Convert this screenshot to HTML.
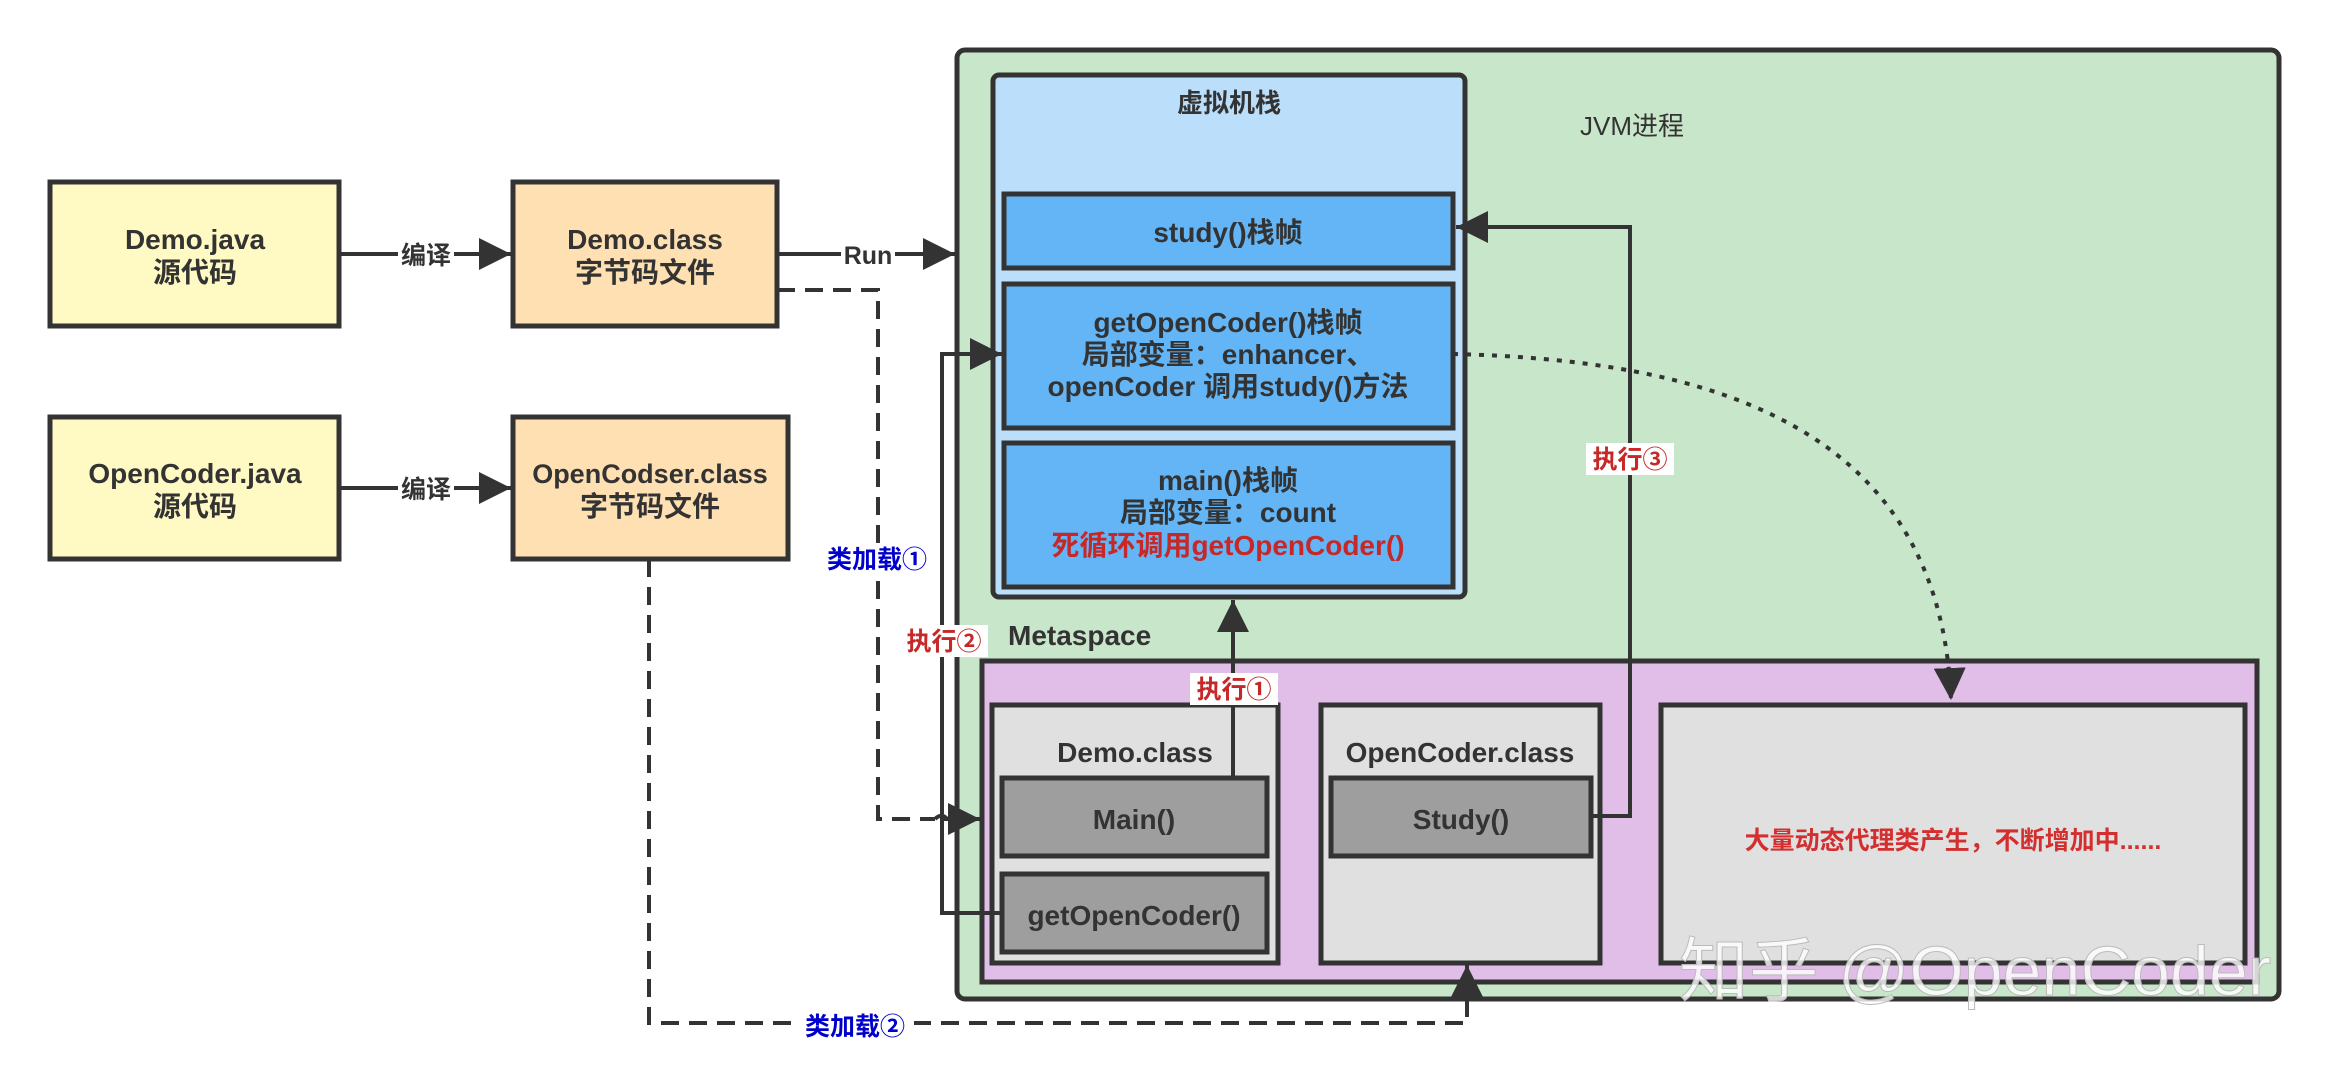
<!DOCTYPE html>
<html><head><meta charset="utf-8"><style>
html,body{margin:0;padding:0;background:#fff;}
svg text{font-family:"Liberation Sans","Noto Sans CJK SC",sans-serif;font-weight:bold;}
</style></head><body>
<svg width="2330" height="1074" viewBox="0 0 2330 1074" xmlns="http://www.w3.org/2000/svg">
<defs>
<marker id="ar" viewBox="0 0 10 10" refX="10" refY="5" markerWidth="32" markerHeight="32" markerUnits="userSpaceOnUse" orient="auto"><path d="M0,0 L10,5 L0,10 Z" fill="#333"/></marker>
</defs>
<g stroke="#333" stroke-width="5">
<rect x="50" y="182" width="289" height="144" fill="#fff9c4"/>
<rect x="513" y="182" width="264" height="144" fill="#ffe0b2"/>
<rect x="50" y="417" width="289" height="142" fill="#fff9c4"/>
<rect x="513" y="417" width="275" height="142" fill="#ffe0b2"/>
<rect x="957" y="50" width="1322" height="949" rx="8" fill="#c8e6c9"/>
<rect x="993" y="75" width="472" height="522" rx="6" fill="#bbdefb"/>
<rect x="1004" y="194" width="449" height="74" fill="#64b5f6"/>
<rect x="1004" y="284" width="449" height="144" fill="#64b5f6"/>
<rect x="1004" y="443" width="449" height="144" fill="#64b5f6"/>
<rect x="982" y="661" width="1275" height="321" fill="#e1bee7"/>
<rect x="992" y="705" width="286" height="258" fill="#e0e0e0"/>
<rect x="1002" y="778" width="265" height="78" fill="#9e9e9e"/>
<rect x="1002" y="874" width="265" height="78" fill="#9e9e9e"/>
<rect x="1321" y="705" width="279" height="258" fill="#e0e0e0"/>
<rect x="1331" y="778" width="260" height="78" fill="#9e9e9e"/>
<rect x="1661" y="705" width="584" height="258" fill="#e0e0e0"/>
</g>
<g stroke="#333" stroke-width="4" fill="none">
<line x1="339" y1="254" x2="511" y2="254" marker-end="url(#ar)"/>
<line x1="339" y1="488" x2="511" y2="488" marker-end="url(#ar)"/>
<line x1="777" y1="254" x2="955" y2="254" marker-end="url(#ar)"/>
<polyline points="777,290 878,290 878,819 935,819" stroke-dasharray="18,10"/>
<path d="M935,819 Q942,812 948,820" />
<line x1="942" y1="819" x2="980" y2="819" marker-end="url(#ar)"/>
<polyline points="1002,913 942,913 942,354 1002,354" marker-end="url(#ar)"/>
<line x1="1233" y1="778" x2="1233" y2="600" marker-end="url(#ar)"/>
<polyline points="1591,816 1630,816 1630,227 1456,227" marker-end="url(#ar)"/>
<polyline points="649,559 649,1023 1467,1023 1467,968" stroke-dasharray="18,10"/>
<line x1="1467" y1="990" x2="1467" y2="965" marker-end="url(#ar)"/>
<path d="M1453,354 C1700,360 1940,420 1951,700" stroke-dasharray="5,8" marker-end="url(#ar)"/>
</g>
<g font-size="28" fill="#333" text-anchor="middle">
<text x="195" y="249">Demo.java</text><text x="195" y="282">源代码</text>
<text x="645" y="249">Demo.class</text><text x="645" y="282">字节码文件</text>
<text x="195" y="483">OpenCoder.java</text><text x="195" y="516">源代码</text>
<text x="650" y="483" font-size="27">OpenCodser.class</text><text x="650" y="516">字节码文件</text>
<rect x="398" y="238" width="56" height="30" fill="#fff"/>
<text x="426" y="264" font-size="25">编译</text>
<rect x="398" y="472" width="56" height="30" fill="#fff"/>
<text x="426" y="498" font-size="25">编译</text>
<rect x="841" y="238" width="54" height="30" fill="#fff"/>
<text x="868" y="264" font-size="25">Run</text>
<text x="1177" y="112" font-size="26" text-anchor="start">虚拟机栈</text>
<text x="1228" y="242">study()栈帧</text>
<text x="1228" y="332">getOpenCoder()栈帧</text>
<text x="1228" y="364">局部变量：enhancer、</text>
<text x="1228" y="396">openCoder 调用study()方法</text>
<text x="1228" y="490">main()栈帧</text>
<text x="1228" y="522">局部变量：count</text>
<text x="1228" y="555" fill="#c62828">死循环调用getOpenCoder()</text>
<text x="1632" y="135" font-size="26" style="font-weight:normal">JVM进程</text>
<text x="1008" y="645" text-anchor="start">Metaspace</text>
<text x="1135" y="762">Demo.class</text>
<text x="1134" y="829">Main()</text>
<text x="1134" y="925">getOpenCoder()</text>
<text x="1460" y="762">OpenCoder.class</text>
<text x="1461" y="829">Study()</text>
<text x="1953" y="849" fill="#d32f2f" font-size="25">大量动态代理类产生，不断增加中......</text>
<rect x="822" y="543" width="110" height="32" fill="#fff"/>
<text x="877" y="568" fill="#0000cc" font-size="25">类加载①</text>
<rect x="900" y="625" width="88" height="32" fill="#fff"/>
<text x="944" y="650" fill="#c62828" font-size="25">执行②</text>
<rect x="1190" y="673" width="88" height="32" fill="#fff"/>
<text x="1234" y="698" fill="#c62828" font-size="25">执行①</text>
<rect x="1586" y="443" width="88" height="32" fill="#fff"/>
<text x="1630" y="468" fill="#c62828" font-size="25">执行③</text>
<rect x="796" y="1010" width="118" height="32" fill="#fff"/>
<text x="855" y="1035" fill="#0000cc" font-size="25">类加载②</text>
<text x="1975" y="995" font-size="70" fill="#ffffff" fill-opacity="0.8" stroke="#bbb" stroke-width="1" style="font-weight:normal">知乎 @OpenCoder</text>
</g>
</svg>
</body></html>
